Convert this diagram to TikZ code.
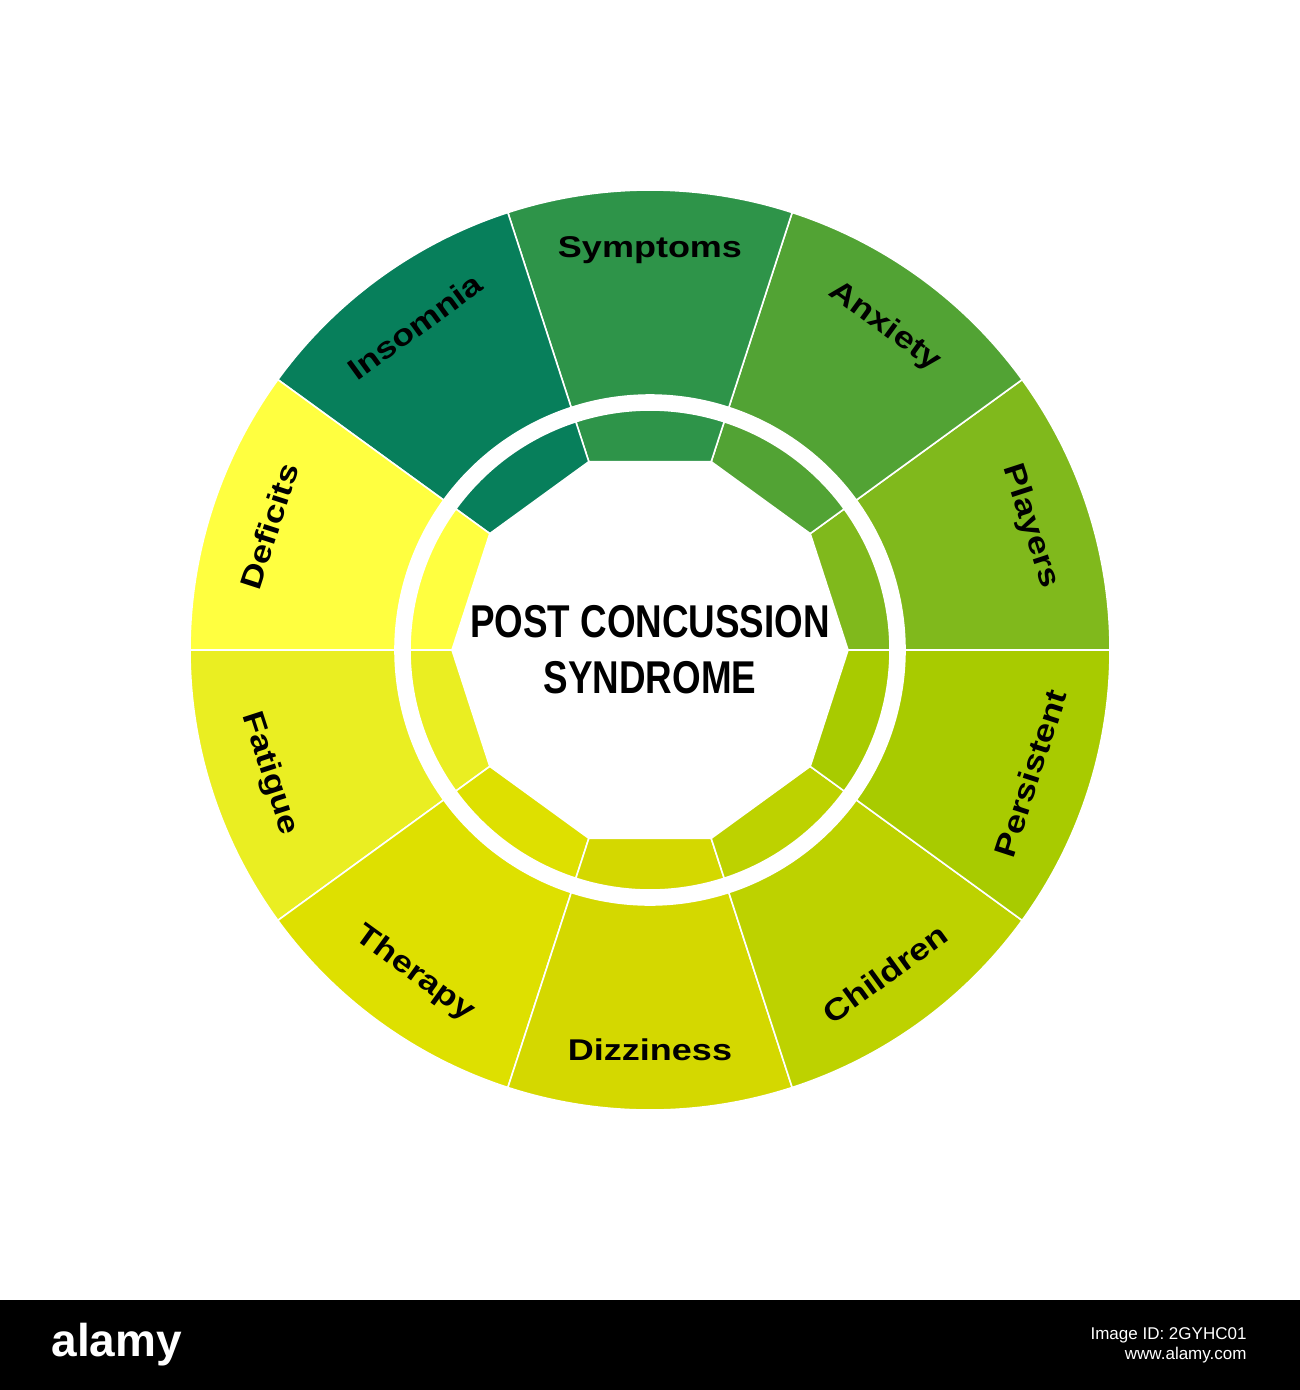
\documentclass[tikz,border=0pt]{standalone}
\usepackage{fontspec}
\setmainfont{Liberation Sans}
\usetikzlibrary{calc}
\begin{document}
\begin{tikzpicture}[x=1pt,y=1pt,
  lab/.style={font=\bfseries\fontsize{30}{32}\selectfont, inner sep=0pt},
  sep/.style={draw=white, line width=1.6pt}]
\useasboundingbox (0,0) rectangle (1300,-1390);
\fill[white] (0,0) rectangle (1300,-1390);
\coordinate (c) at (650,-650);
\foreach \i/\col/\txt in {
  0/80B91C/Players, 1/52A334/Anxiety, 2/2E9449/Symptoms, 3/077F5B/Insomnia,
  4/FFFF40/Deficits, 5/EAEE22/Fatigue, 6/DEE000/Therapy, 7/D4D800/Dizziness,
  8/BDD200/Children, 9/A8CB00/Persistent}{
  \pgfmathsetmacro{\a}{36*\i}
  \pgfmathsetmacro{\b}{36*\i+36}
  \pgfmathsetmacro{\m}{36*\i+18}
  \definecolor{seg}{HTML}{\col}
  \fill[seg,sep] ($(c)+(\a:255)$) -- ($(c)+(\a:460)$) arc[start angle=\a,end angle=\b,radius=460] -- ($(c)+(\b:255)$) arc[start angle=\b,end angle=\a,radius=255] -- cycle;
  \fill[seg,sep] ($(c)+(\a:198)$) -- ($(c)+(\a:240)$) arc[start angle=\a,end angle=\b,radius=240] -- ($(c)+(\b:198)$) -- cycle;
  \pgfmathsetmacro{\r}{\m<180 ? \m-90 : \m+90}
  \node[lab,rotate=\r,xscale=1.2] (t\i) at ($(c)+(\m:400)$) {\txt};
}
\node[font=\bfseries\fontsize{46}{56}\selectfont, xscale=0.8, align=center] (title) at (c) {POST CONCUSSION\\SYNDROME};
\fill[black] (0,-1300) rectangle (1300,-1390);
\node[white, font=\bfseries\fontsize{46}{50}\selectfont, anchor=west] (logo) at (48,-1345) {alamy};
\node[white, font=\fontsize{17}{20}\selectfont, anchor=east, align=right] (id) at (1250,-1345) {Image ID: 2GYHC01\\www.alamy.com};
\end{tikzpicture}
\end{document}
